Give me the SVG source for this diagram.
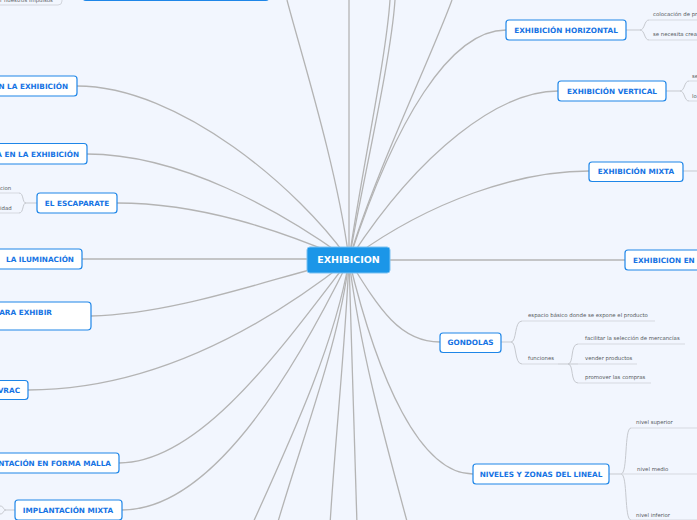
<svg xmlns="http://www.w3.org/2000/svg" width="697" height="520" viewBox="0 0 697 520">
<style>
.bg{fill:#f2f6fe}
.main{fill:none;stroke:#b4b4b4;stroke-width:1.3}
.sub{fill:none;stroke:#c6c9cf;stroke-width:1}
.ul{fill:none;stroke:#d6d9e0;stroke-width:1}
.node{fill:#ffffff;stroke:#1e86e8;stroke-width:1.2}
.lbl{font-family:"DejaVu Sans",Verdana,sans-serif;font-weight:bold;font-size:7.3px;fill:#1673e4}
.root{fill:#1b96e8;stroke:#7cc2f2;stroke-width:1}
.rlbl{font-family:"DejaVu Sans",Verdana,sans-serif;font-weight:bold;font-size:9.5px;fill:#ffffff}
.ch{font-family:"DejaVu Sans",Verdana,sans-serif;font-size:5.4px;fill:#555a60}
</style>
<rect class="bg" x="0" y="0" width="697" height="520"/>
<g id="connectors">
<path class="main" d="M349,260 C338,170 300,50 287,0"/>
<path class="main" d="M349,0 L349,260"/>
<path class="main" d="M390,0 C386,60 360,180 349,260"/>
<path class="main" d="M395,0 C391,60 363,180 349,260"/>
<path class="main" d="M452,0 C430,60 372,180 349,260"/>
<path class="main" d="M506,30 C450,30 395,120 349,260"/>
<path class="main" d="M558,91 C500,91 420,150 349,260"/>
<path class="main" d="M589,171 C520,171 430,200 349,260"/>
<path class="main" d="M349,260 L625,260"/>
<path class="main" d="M349,260 C380,310 400,342 440,342"/>
<path class="main" d="M349,260 C378,380 420,474 473,474"/>
<path class="main" d="M349,260 C336,340 295,430 252,525"/>
<path class="main" d="M349,260 C340,340 305,430 277,525"/>
<path class="main" d="M349,260 C345,350 335,440 330,525"/>
<path class="main" d="M349,260 C352,350 355,440 357,525"/>
<path class="main" d="M349,260 C360,350 385,440 408,525"/>
<path class="main" d="M77,86 C180,86 300,190 349,260"/>
<path class="main" d="M87,154 C180,154 280,210 349,260"/>
<path class="main" d="M117,203 C200,203 280,230 349,260"/>
<path class="main" d="M82,259 L349,259"/>
<path class="main" d="M91,316 C180,314 280,275 349,260"/>
<path class="main" d="M28,390 C150,390 260,330 349,260"/>
<path class="main" d="M119,463 C200,463 280,350 349,260"/>
<path class="main" d="M122,510 C210,510 290,380 349,260"/>
<!-- sub connectors -->
<path class="sub" d="M626,30 L640,30 C645,30 644,20 649,20"/>
<path class="sub" d="M640,30 C645,30 644,40 649,40"/>
<path class="ul" d="M649,20 L697,20 M649,40 L697,40"/>
<path class="sub" d="M666,91 L680,91 C685,91 684,81 689,81"/>
<path class="sub" d="M680,91 C685,91 684,101 689,101"/>
<path class="ul" d="M689,81 L697,81 M689,101 L697,101"/>
<path class="sub" d="M683,171 L697,171"/>
<path class="sub" d="M501,342 L511,342 C517,342 514,321 522,321"/>
<path class="sub" d="M511,342 C517,342 514,364 522,364"/>
<path class="ul" d="M522,321 L655,321 M522,364 L558,364"/>
<path class="sub" d="M558,364 L568,364 C574,364 570,344 578,344"/>
<path class="sub" d="M568,364 C574,364 570,383 578,383"/>
<path class="sub" d="M568,364 L578,364"/>
<path class="ul" d="M578,344 L685,344 M578,364 L637,364 M578,383 L651,383"/>
<path class="sub" d="M609,474 L621,474 C628,474 624,428 631,428"/>
<path class="sub" d="M621,474 C628,474 624,520 631,520"/>
<path class="ul" d="M631,428 L697,428 M621,474 L697,474 M631,520 L697,520"/>
<path class="sub" d="M37,203 L26,203 C22,203 24,193 19,193"/>
<path class="sub" d="M26,203 C22,203 24,213 19,213"/>
<path class="ul" d="M19,193 L0,193 M19,213 L0,213"/>
<path class="sub" d="M15,510 L6,510 C3,510 4,506 0,506 M6,510 C3,510 4,514 0,514"/>
</g>
<g id="n-top-impulsos">
<rect x="-10" y="-16" width="72" height="21" rx="4" fill="none" stroke="#d3d6dd" stroke-width="1"/>
<text class="ch" x="0" y="2">r nuestros impulsos</text>
</g>
<g id="n-top"><rect class="node" x="83" y="-25" width="186" height="25.5" rx="3"/></g>
<g id="n-horizontal"><rect class="node" x="506" y="20" width="120" height="20" rx="3"/><text class="lbl" x="566" y="32.6" text-anchor="middle">EXHIBICIÓN HORIZONTAL</text>
<text class="ch" x="653" y="16">colocación de pr</text><text class="ch" x="653" y="36">se necesita crea</text></g>
<g id="n-vertical"><rect class="node" x="558" y="81" width="108" height="20" rx="3"/><text class="lbl" x="612" y="93.6" text-anchor="middle">EXHIBICIÓN VERTICAL</text>
<text class="ch" x="692" y="78">se</text><text class="ch" x="692" y="98">lo</text></g>
<g id="n-mixta"><rect class="node" x="589" y="162" width="94" height="19.5" rx="3"/><text class="lbl" x="636" y="174.4" text-anchor="middle">EXHIBICIÓN MIXTA</text></g>
<g id="n-exhibicion-en"><rect class="node" x="625" y="250" width="90" height="20" rx="3"/><text class="lbl" x="633" y="262.6">EXHIBICION EN</text></g>
<g id="n-gondolas"><rect class="node" x="440" y="333" width="61" height="19.5" rx="3"/><text class="lbl" x="470.5" y="345.2" text-anchor="middle">GONDOLAS</text>
<text class="ch" x="528" y="317">espacio básico donde se expone el producto</text>
<text class="ch" x="528" y="360">funciones</text>
<text class="ch" x="585" y="340">facilitar la selección de mercancías</text>
<text class="ch" x="585" y="360">vender productos</text>
<text class="ch" x="585" y="379">promover las compras</text></g>
<g id="n-niveles"><rect class="node" x="473" y="464" width="136" height="20" rx="3"/><text class="lbl" x="541" y="476.6" text-anchor="middle">NIVELES Y ZONAS DEL LINEAL</text>
<text class="ch" x="636" y="424">nivel superior</text>
<text class="ch" x="637" y="471">nivel medio</text>
<text class="ch" x="636" y="517">nivel inferior</text></g>
<g id="n-left1"><rect class="node" x="-20" y="76" width="97" height="20" rx="3"/><text class="lbl" x="68" y="88.6" text-anchor="end">N LA EXHIBICIÓN</text></g>
<g id="n-left2"><rect class="node" x="-20" y="143.5" width="107" height="20.5" rx="3"/><text class="lbl" x="79" y="156.6" text-anchor="end">A EN LA EXHIBICIÓN</text></g>
<g id="n-escaparate"><rect class="node" x="37" y="193" width="80" height="20" rx="3"/><text class="lbl" x="77" y="205.6" text-anchor="middle">EL ESCAPARATE</text>
<text class="ch" x="0" y="190">cion</text><text class="ch" x="0" y="210">idad</text></g>
<g id="n-iluminacion"><rect class="node" x="-20" y="249" width="102" height="20" rx="3"/><text class="lbl" x="6" y="261.6">LA ILUMINACIÓN</text></g>
<g id="n-exhibir"><rect class="node" x="-20" y="302" width="111" height="28" rx="3.5"/><text class="lbl" x="52" y="315.4" text-anchor="end">ARA EXHIBIR</text></g>
<g id="n-vrac"><rect class="node" x="-20" y="380.5" width="48" height="19" rx="3"/><text class="lbl" x="20" y="392.6" text-anchor="end">VRAC</text></g>
<g id="n-malla"><rect class="node" x="-20" y="453" width="139" height="20" rx="3"/><text class="lbl" x="111" y="465.6" text-anchor="end">ANTACIÓN EN FORMA MALLA</text></g>
<g id="n-impl-mixta"><rect class="node" x="15" y="500" width="107" height="20" rx="3"/><text class="lbl" x="68" y="512.6" text-anchor="middle">IMPLANTACIÓN MIXTA</text></g>
<g id="n-root"><rect class="root" x="307" y="247" width="83" height="26" rx="3"/><text class="rlbl" x="348.5" y="263.4" text-anchor="middle">EXHIBICION</text></g>
</svg>
